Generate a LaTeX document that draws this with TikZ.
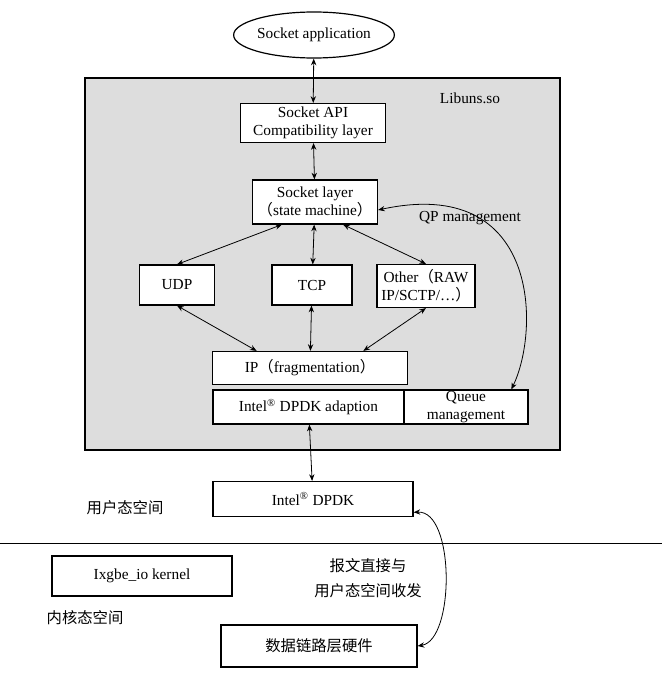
\documentclass[tikz,border=0pt]{standalone}
\usepackage{fontspec}
\setmainfont{Liberation Serif}
\newfontfamily\cjk{Noto Sans CJK SC}
\usetikzlibrary{shapes.geometric,arrows.meta}
\begin{document}
\begin{tikzpicture}[x=0.75pt,y=-0.75pt,
  every node/.style={font=\fontsize{11.5}{13.5}\selectfont},
  box/.style={draw,line width=0.9pt,fill=white,inner sep=0pt,align=center},
  arr/.style={{Stealth[length=5pt,width=4pt]}-{Stealth[length=5pt,width=4pt]},line width=0.6pt}]
\useasboundingbox (0,0) rectangle (662,675);
\fill[gray!27,draw=black,line width=0.9pt] (85,78) rectangle (560,450);
\node[ellipse,draw,line width=0.9pt,minimum width=150*0.75pt,minimum height=46*0.75pt,inner sep=0pt] (app) at (314,35) {Socket application};
\node at (470,98) (lib) {Libuns.so};
\node[box,minimum width=145*0.75pt,minimum height=39*0.75pt] (api) at (313,123) {Socket API\\Compatibility layer};
\node[box,minimum width=125*0.75pt,minimum height=44*0.75pt] (sl) at (315,202) {Socket layer\\{\cjk （}state machine{\cjk ）}};
\node at (470,218) (qp) {QP management};
\node[box,minimum width=75*0.75pt,minimum height=40*0.75pt] (udp) at (177,285) {UDP};
\node[box,minimum width=80*0.75pt,minimum height=40*0.75pt] (tcp) at (312,285) {TCP};
\node[box,minimum width=98*0.75pt,minimum height=43*0.75pt] (oth) at (426,286) {Other{\cjk （}RAW\\IP/SCTP/…{\cjk ）}};
\node[box,minimum width=195*0.75pt,minimum height=33*0.75pt] (ip) at (310,368) {IP{\cjk （}fragmentation{\cjk ）}};
\node[box,minimum width=191*0.75pt,minimum height=34*0.75pt] (ada) at (308.5,407) {Intel\textsuperscript{\textregistered} DPDK adaption};
\node[box,minimum width=124*0.75pt,minimum height=34*0.75pt] (qm) at (466,407) {Queue\\management};
\node[box,minimum width=200*0.75pt,minimum height=35*0.75pt] (dpdk) at (313,499) {Intel\textsuperscript{\textregistered} DPDK};
\node at (125,508) (us) {\cjk 用户态空间};
\draw[line width=0.5pt] (0,543) -- (662,543);
\node[box,minimum width=180*0.75pt,minimum height=40*0.75pt] (ix) at (142,576) {Ixgbe\_io kernel};
\node at (85,618) (ks) {\cjk 内核态空间};
\node[align=center,font=\fontsize{11.5}{19}\selectfont\cjk] (pk) at (368,578) {报文直接与\\用户态空间收发};
\node[box,minimum width=196*0.75pt,minimum height=42*0.75pt] (hw) at (319,646) {\cjk 数据链路层硬件};
\draw[arr] (app) -- (api);
\draw[arr] (api) -- (sl);
\draw[arr] (sl.south west) ++(30,0) coordinate (a1) (a1) -- (udp.north);
\draw[arr] (sl) -- (tcp);
\draw[arr] (sl.south east) ++(-35,0) coordinate (a2) (a2) -- (oth.north);
\draw[arr] (udp.south) -- ([xshift=-40]ip.north);
\draw[arr] (tcp) -- (ip);
\draw[arr] (oth.south) -- ([xshift=40]ip.north);
\draw[arr] (ada) -- (dpdk);
\draw[arr] ([yshift=-6]sl.east) .. controls (540,175) and (540,330) .. ([xshift=34]qm.north);
\draw[arr] ([yshift=-10]dpdk.east) .. controls (455,510) and (455,640) .. (hw.east);
\end{tikzpicture}
\end{document}
